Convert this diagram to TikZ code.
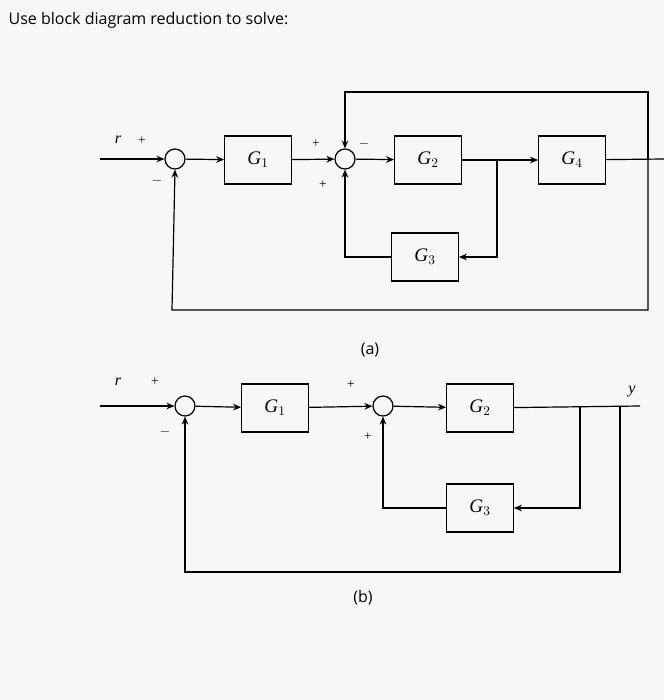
\documentclass[tikz,border=0pt]{standalone}
\usepackage{fontspec}
\setmainfont{Liberation Serif}
\newfontfamily\titlefont{Open Sans}
\usetikzlibrary{arrows.meta}
\begin{document}
\begin{tikzpicture}[x=0.75pt,y=-0.75pt,
  blk/.style={draw,line width=0.9pt,minimum width=50pt,minimum height=36pt,inner sep=0pt,font=\Large\itshape},
  sj/.style={draw,circle,line width=0.9pt,minimum size=15pt,inner sep=0pt},
  ln/.style={line width=0.9pt},
  ar/.style={ln,-{Stealth[length=6pt,width=5pt]}},
  sg/.style={font=\normalsize},
  captxt/.style={font=\titlefont\large}]
\useasboundingbox[fill=gray!6] (0,0) rectangle (664,700);
\node[anchor=west,font=\titlefont\large] (title) at (4,20) {Use block diagram reduction to solve:};
% ---------- (a)
\node[sj] (s1) at (175,159) {};
\node[blk] (g1) at (258,160) {G$_1$};
\node[sj] (s2) at (345,159) {};
\node[blk] (g2) at (428,160) {G$_2$};
\node[blk] (g4) at (572,160) {G$_4$};
\node[blk] (g3) at (425,257) {G$_3$};
\coordinate (ain) at (100,159);
\coordinate (aout) at (664,159);
\coordinate (ab) at (497,159);
\coordinate (afb) at (648,159);
\node[font=\large\itshape] (r1) at (118,140) {r};
\node[sg] (p1) at (142,141) {+};
\node[sg] (m1) at (157,181) {$-$};
\node[sg] (p2) at (316,144) {+};
\node[sg] (m2) at (364,144) {$-$};
\node[sg] (p3) at (323,185) {+};
\draw[ar] (ain) -- (s1);
\draw[ar] (s1) -- (g1);
\draw[ar] (g1) -- (s2);
\draw[ar] (s2) -- (g2);
\draw[ar] (g2) -- (g4);
\draw[ln] (g4) -- (aout);
\draw[ar] (ab) |- (g3.east);
\draw[ar] (g3.west) -| (s2.south);
\draw[ar] (afb) |- (345,92) -- (s2.north);
\draw[ar] (afb) |- (172,310) -- (s1.south);
\node[captxt] (capa) at (370,350) {(a)};
% ---------- (b)
\node[sj] (t1) at (185,406) {};
\node[blk] (h1) at (275,408) {G$_1$};
\node[sj] (t2) at (383,406) {};
\node[blk] (h2) at (480,408) {G$_2$};
\node[blk] (h3) at (480,508) {G$_3$};
\coordinate (bin) at (100,406);
\coordinate (bout) at (640,406);
\coordinate (bb) at (580,406);
\coordinate (bfb) at (620,406);
\node[font=\large\itshape] (r2) at (118,382) {r};
\node[sg] (q1) at (155,382) {+};
\node[sg] (n1) at (165,432) {$-$};
\node[sg] (q2) at (351,385) {+};
\node[sg] (q3) at (368,437) {+};
\node[font=\large\itshape] (yl) at (632,392) {y};
\draw[ar] (bin) -- (t1);
\draw[ar] (t1) -- (h1);
\draw[ar] (h1) -- (t2);
\draw[ar] (t2) -- (h2);
\draw[ln] (h2) -- (bout);
\draw[ar] (bb) |- (h3.east);
\draw[ar] (h3.west) -| (t2.south);
\draw[ar] (bfb) |- (185,572) -- (t1.south);
\node[captxt] (capb) at (363,598) {(b)};
\end{tikzpicture}
\end{document}
